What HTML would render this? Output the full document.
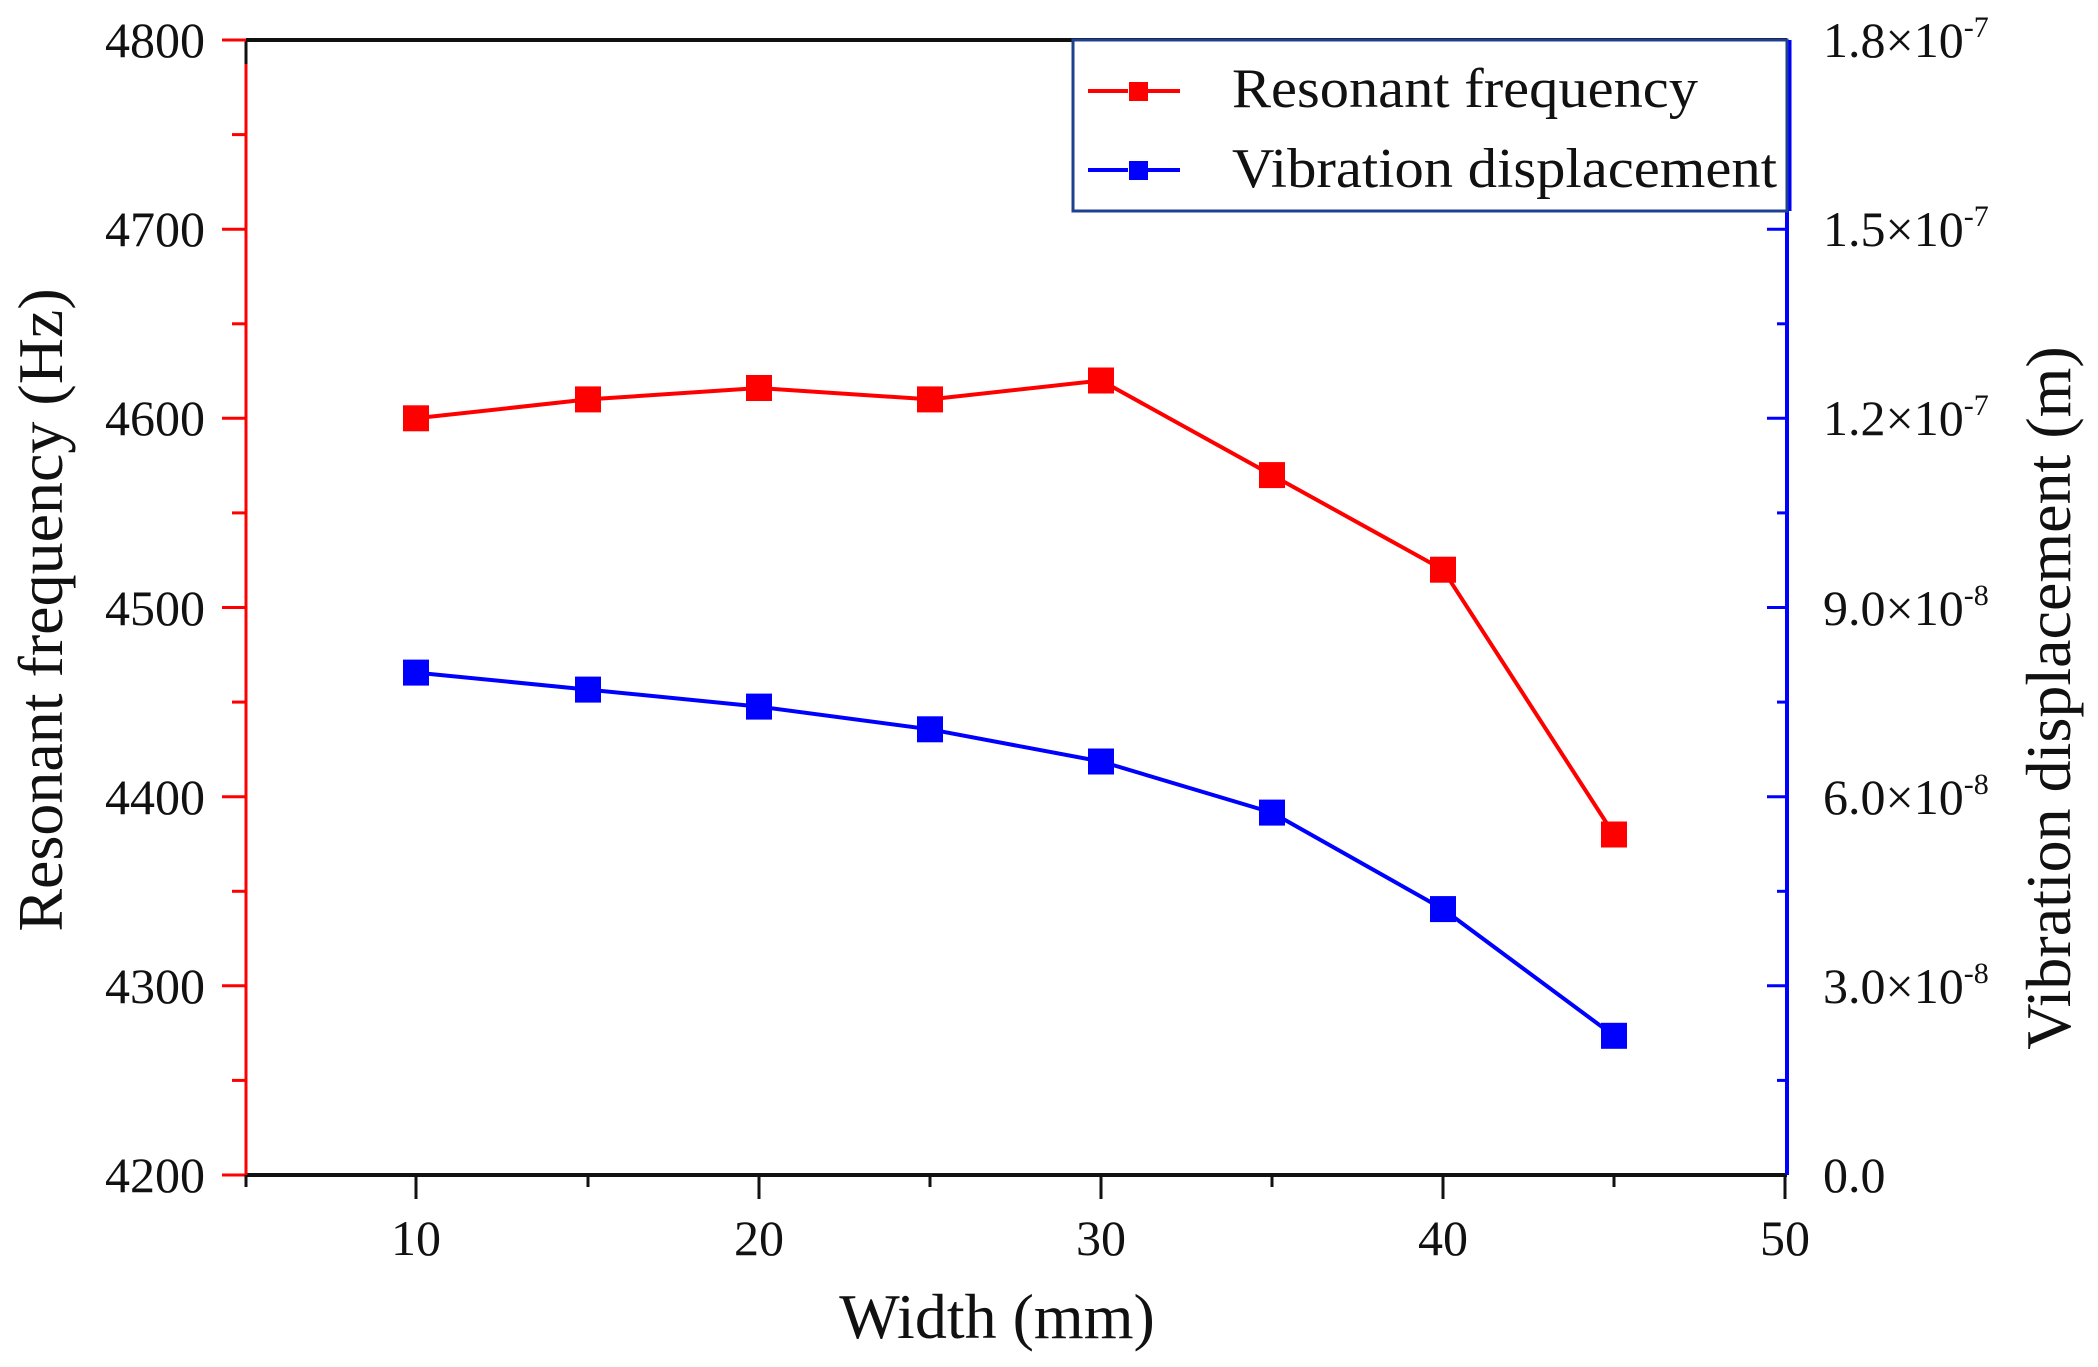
<!DOCTYPE html>
<html><head><meta charset="utf-8"><style>
html,body{margin:0;padding:0;background:#fff}
svg{display:block}
text{font-family:"Liberation Serif",serif;fill:#111}
</style></head><body>
<svg width="2098" height="1367" viewBox="0 0 2098 1367" xmlns="http://www.w3.org/2000/svg">
<line x1="246" y1="40" x2="1787" y2="40" stroke="#111" stroke-width="4"/>
<line x1="246" y1="1175" x2="1787" y2="1175" stroke="#111" stroke-width="4"/>
<line x1="246" y1="40" x2="246" y2="1175" stroke="#f00" stroke-width="3"/>
<line x1="246" y1="40" x2="246" y2="64" stroke="#111" stroke-width="3"/>
<line x1="1787" y1="40" x2="1787" y2="1175" stroke="#00f" stroke-width="4"/>
<g stroke="#f00" stroke-width="3">
<line x1="222" y1="40" x2="246" y2="40"/><line x1="232" y1="134.6" x2="246" y2="134.6"/>
<line x1="222" y1="229.2" x2="246" y2="229.2"/><line x1="232" y1="323.8" x2="246" y2="323.8"/>
<line x1="222" y1="418.3" x2="246" y2="418.3"/><line x1="232" y1="512.9" x2="246" y2="512.9"/>
<line x1="222" y1="607.5" x2="246" y2="607.5"/><line x1="232" y1="702.1" x2="246" y2="702.1"/>
<line x1="222" y1="796.7" x2="246" y2="796.7"/><line x1="232" y1="891.3" x2="246" y2="891.3"/>
<line x1="222" y1="985.8" x2="246" y2="985.8"/><line x1="232" y1="1080.4" x2="246" y2="1080.4"/>
<line x1="222" y1="1175" x2="246" y2="1175"/>
</g>
<g stroke="#00f" stroke-width="3">
<line x1="1767" y1="229.2" x2="1787" y2="229.2"/><line x1="1777" y1="323.8" x2="1787" y2="323.8"/>
<line x1="1767" y1="418.3" x2="1787" y2="418.3"/><line x1="1777" y1="512.9" x2="1787" y2="512.9"/>
<line x1="1767" y1="607.5" x2="1787" y2="607.5"/><line x1="1777" y1="702.1" x2="1787" y2="702.1"/>
<line x1="1767" y1="796.7" x2="1787" y2="796.7"/><line x1="1777" y1="891.3" x2="1787" y2="891.3"/>
<line x1="1767" y1="985.8" x2="1787" y2="985.8"/><line x1="1777" y1="1080.4" x2="1787" y2="1080.4"/>
</g>
<g stroke="#111" stroke-width="3">
<line x1="246" y1="1175" x2="246" y2="1187"/><line x1="416" y1="1175" x2="416" y2="1199"/>
<line x1="588" y1="1175" x2="588" y2="1187"/><line x1="759" y1="1175" x2="759" y2="1199"/>
<line x1="930" y1="1175" x2="930" y2="1187"/><line x1="1101" y1="1175" x2="1101" y2="1199"/>
<line x1="1272" y1="1175" x2="1272" y2="1187"/><line x1="1443" y1="1175" x2="1443" y2="1199"/>
<line x1="1614" y1="1175" x2="1614" y2="1187"/><line x1="1785" y1="1175" x2="1785" y2="1199"/>
</g>
<g font-size="50" text-anchor="end">
<text x="205" y="57">4800</text><text x="205" y="246">4700</text><text x="205" y="435">4600</text>
<text x="205" y="625">4500</text><text x="205" y="814">4400</text><text x="205" y="1003">4300</text>
<text x="205" y="1192">4200</text>
</g>
<g font-size="50" text-anchor="middle">
<text x="416" y="1255">10</text><text x="759" y="1255">20</text><text x="1101" y="1255">30</text>
<text x="1443" y="1255">40</text><text x="1785" y="1255">50</text>
</g>
<g font-size="50">
<text x="1823" y="57">1.8×10<tspan font-size="30" dy="-20">-7</tspan></text>
<text x="1823" y="246">1.5×10<tspan font-size="30" dy="-20">-7</tspan></text>
<text x="1823" y="435">1.2×10<tspan font-size="30" dy="-20">-7</tspan></text>
<text x="1823" y="625">9.0×10<tspan font-size="30" dy="-20">-8</tspan></text>
<text x="1823" y="814">6.0×10<tspan font-size="30" dy="-20">-8</tspan></text>
<text x="1823" y="1003">3.0×10<tspan font-size="30" dy="-20">-8</tspan></text>
<text x="1823" y="1192">0.0</text>
</g>
<text x="997" y="1338" font-size="64" text-anchor="middle">Width (mm)</text>
<text transform="translate(62,610) rotate(-90)" font-size="64" text-anchor="middle">Resonant frequency (Hz)</text>
<text transform="translate(2070,698) rotate(-90)" font-size="64" text-anchor="middle">Vibration displacement (m)</text>
<polyline fill="none" stroke="#f00" stroke-width="4" points="416,418.3 588,399.4 759,388 930,399.4 1101,380.5 1272,475.1 1443,569.7 1614,834.5"/>
<polyline fill="none" stroke="#00f" stroke-width="4" points="416,672.6 588,689.6 759,706.6 930,729.3 1101,761.5 1272,812.6 1443,909.1 1614,1035.8"/>
<g fill="#f00">
<rect x="403" y="405.3" width="26" height="26"/><rect x="575" y="386.4" width="26" height="26"/>
<rect x="746" y="375" width="26" height="26"/><rect x="917" y="386.4" width="26" height="26"/>
<rect x="1088" y="367.5" width="26" height="26"/><rect x="1259" y="462.1" width="26" height="26"/>
<rect x="1430" y="556.7" width="26" height="26"/><rect x="1601" y="821.5" width="26" height="26"/>
</g>
<g fill="#00f">
<rect x="403" y="659.6" width="26" height="26"/><rect x="575" y="676.6" width="26" height="26"/>
<rect x="746" y="693.6" width="26" height="26"/><rect x="917" y="716.3" width="26" height="26"/>
<rect x="1088" y="748.5" width="26" height="26"/><rect x="1259" y="799.6" width="26" height="26"/>
<rect x="1430" y="896.1" width="26" height="26"/><rect x="1601" y="1022.8" width="26" height="26"/>
</g>
<rect x="1073" y="40" width="714" height="171" fill="#fff" stroke="#1f3f8f" stroke-width="3"/>
<line x1="1790" y1="40" x2="1790" y2="211" stroke="#00f" stroke-width="3"/>
<line x1="1088" y1="91" x2="1192" y2="91" stroke="#f00" stroke-width="4" stroke-dasharray="40,12"/>
<rect x="1129" y="82" width="19" height="19" fill="#f00"/>
<line x1="1088" y1="170" x2="1192" y2="170" stroke="#00f" stroke-width="4" stroke-dasharray="40,12"/>
<rect x="1129" y="161" width="19" height="19" fill="#00f"/>
<text x="1232" y="107" font-size="56" textLength="466" lengthAdjust="spacingAndGlyphs">Resonant frequency</text>
<text x="1232" y="187" font-size="56" textLength="545" lengthAdjust="spacingAndGlyphs">Vibration displacement</text>
</svg>
</body></html>
